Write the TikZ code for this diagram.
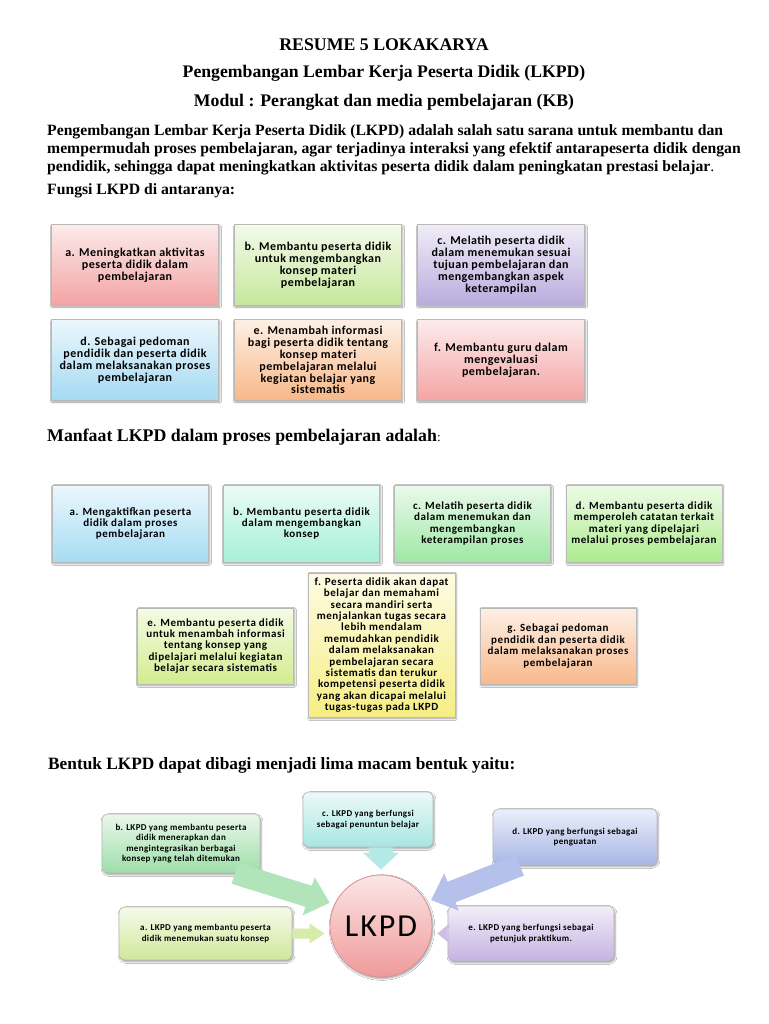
\documentclass[tikz,border=0pt]{standalone}
\usepackage{fontspec}
\setmainfont{Liberation Serif}
\newfontfamily\calibri[LetterSpace=4]{Carlito}
\newfontfamily\calibriwide[LetterSpace=5]{Carlito}
\newfontfamily\calibribig[LetterSpace=6]{Carlito}
\usetikzlibrary{shapes,arrows.meta,positioning,calc,shadows.blur}
\usepackage{xcolor}
% fungsi colours
\definecolor{fredA}{HTML}{F3A3A3}
\definecolor{fgreenB}{HTML}{C6E89C}
\definecolor{fvioletC}{HTML}{B9ACDD}
\definecolor{fblueD}{HTML}{A4DAF2}
\definecolor{forangeE}{HTML}{F8B888}
\definecolor{fpinkF}{HTML}{F4A4A4}
% manfaat colours
\definecolor{mblue}{HTML}{A6DCF4}
\definecolor{mmint}{HTML}{A6F0D6}
\definecolor{mgreen}{HTML}{9EE8A4}
\definecolor{mgreenb}{HTML}{ADEC8E}
\definecolor{mlime}{HTML}{D2EC8E}
\definecolor{myellow}{HTML}{F6EE84}
\definecolor{mpeach}{HTML}{F8B98C}
% bentuk colours
\definecolor{bcyan}{HTML}{A6E6E2}
\definecolor{bgreen}{HTML}{9EDEA8}
\definecolor{blime}{HTML}{D0E89C}
\definecolor{bblue}{HTML}{A8B6E6}
\definecolor{blav}{HTML}{C6B2E2}
\definecolor{bpink}{HTML}{F09A9A}

% fat arrow: from, to, colour, shaft half width, head half width, head length
\newcommand{\fatarrow}[6]{%
  \coordinate (fa-s) at (#1);
  \coordinate (fa-t) at ($(#2)!5pt!(fa-s)$);
  \coordinate (fa-h) at ($(fa-t)!#6!(fa-s)$);
  \fill[#3] ($(fa-s)!#4!90:(fa-t)$) -- ($(fa-h)!#4!90:(fa-t)$) -- ($(fa-h)!#5!90:(fa-t)$)
    -- (fa-t) -- ($(fa-h)!#5!-90:(fa-t)$) -- ($(fa-h)!#4!-90:(fa-t)$) -- ($(fa-s)!#4!-90:(fa-t)$) -- cycle;
}

\begin{document}
\begin{tikzpicture}[x=1pt, y=-1pt,
  card/.style={rectangle, draw=gray!55, line width=0.6pt, top color=#1!22!white, bottom color=#1, align=center, inner sep=1pt,
    blur shadow={shadow blur steps=4, shadow xshift=1pt, shadow yshift=-1.5pt}},
  fungsi/.style={card=#1, minimum width=167pt, minimum height=81pt, font=\calibri\bfseries\fontsize{12}{11.9}\selectfont},
  manfaat/.style={card=#1, minimum width=156pt, minimum height=77pt, font=\calibriwide\bfseries\fontsize{11}{11.4}\selectfont},
  bentuk/.style={card=#1, rounded corners=6pt, font=\calibri\bfseries\fontsize{9}{10.6}\selectfont},
  head/.style={font=\bfseries\fontsize{17.8}{20}\selectfont, anchor=west}
]
  \useasboundingbox (0,0) rectangle (768,1024);
  \fill[white] (0,0) rectangle (768,1024);

  % Titles
  \node[font=\bfseries\fontsize{17.8}{20}\selectfont] (title1) at (384,45) {RESUME 5 LOKAKARYA};
  \node[font=\bfseries\fontsize{17.7}{20}\selectfont] (title2) at (384,73) {Pengembangan Lembar Kerja Peserta Didik (LKPD)};
  \node[font=\bfseries\fontsize{17.7}{20}\selectfont] (title3) at (384,102) {Modul : Perangkat dan media pembelajaran (KB)};
  \node[font=\bfseries\fontsize{15.7}{18}\selectfont, align=left, anchor=north west, inner sep=0pt] (intro) at (47,124)
    {Pengembangan Lembar Kerja Peserta Didik (LKPD) adalah salah satu sarana untuk membantu dan\\
     mempermudah proses pembelajaran, agar terjadinya interaksi yang efektif antarapeserta didik dengan\\
     pendidik, sehingga dapat meningkatkan aktivitas peserta didik dalam peningkatan prestasi belajar{\mdseries .}};
  \node[font=\bfseries\fontsize{15.7}{18}\selectfont, anchor=west, inner sep=0pt] (fungsi) at (47,191) {Fungsi LKPD di antaranya:};

  % Fungsi boxes
  \node[fungsi=fredA] (fa) at (135,265) {a. Meningkatkan aktivitas\\peserta didik dalam\\pembelajaran};
  \node[fungsi=fgreenB] (fb) at (318,265) {b. Membantu peserta didik\\untuk mengembangkan\\konsep materi\\pembelajaran};
  \node[fungsi=fvioletC] (fc) at (501,265) {c. Melatih peserta didik\\dalam menemukan sesuai\\tujuan pembelajaran dan\\mengembangkan aspek\\keterampilan};
  \node[fungsi=fblueD] (fd) at (135,360) {d. Sebagai pedoman\\pendidik dan peserta didik\\dalam melaksanakan proses\\pembelajaran};
  \node[fungsi=forangeE] (fe) at (318,360) {e. Menambah informasi\\bagi peserta didik tentang\\konsep materi\\pembelajaran melalui\\kegiatan belajar yang\\sistematis};
  \node[fungsi=fpinkF] (ff) at (501,360) {f. Membantu guru dalam\\mengevaluasi\\pembelajaran.};

  % Manfaat boxes
  \node[head, inner sep=0pt] (manfaat) at (47,437) {Manfaat LKPD dalam proses pembelajaran adalah{\mdseries\fontsize{13}{15}\selectfont :}};
  \node[manfaat=mblue] (ma) at (130.5,523.5) {a. Mengaktifkan peserta\\didik dalam proses\\pembelajaran};
  \node[manfaat=mmint] (mb) at (301.5,523.5) {b. Membantu peserta didik\\dalam mengembangkan\\konsep};
  \node[manfaat=mgreen] (mc) at (472.5,523.5) {c. Melatih peserta didik\\dalam menemukan dan\\mengembangkan\\keterampilan proses};
  \node[manfaat=mgreenb] (md) at (644,523.5) {d. Membantu peserta didik\\memperoleh catatan terkait\\materi yang dipelajari\\melalui proses pembelajaran};
  \node[manfaat=mlime, minimum height=76pt] (me) at (215.5,646) {e. Membantu peserta didik\\untuk menambah informasi\\tentang konsep yang\\dipelajari melalui kegiatan\\belajar secara sistematis};
  \node[manfaat=myellow, minimum width=147pt, minimum height=144pt] (mf) at (381.5,645) {f. Peserta didik akan dapat\\belajar dan memahami\\secara mandiri serta\\menjalankan tugas secara\\lebih mendalam\\memudahkan pendidik\\dalam melaksanakan\\pembelajaran secara\\sistematis dan terukur\\kompetensi peserta didik\\yang akan dicapai melalui\\tugas-tugas pada LKPD};
  \node[manfaat=mpeach, minimum height=76pt] (mg) at (558,646) {g. Sebagai pedoman\\pendidik dan peserta didik\\dalam melaksanakan proses\\pembelajaran};

  % Bentuk diagram
  \node[head, font=\bfseries\fontsize{17.3}{20}\selectfont, inner sep=0pt] (bentuk) at (48,765) {Bentuk LKPD dapat dibagi menjadi lima macam bentuk yaitu:};
  \node[bentuk=bgreen, minimum width=158pt, minimum height=59pt] (lb) at (181,843.5) {b. LKPD yang membantu peserta\\didik menerapkan dan\\mengintegrasikan berbagai\\konsep yang telah ditemukan};
  \node[bentuk=bcyan, minimum width=130pt, minimum height=55pt] (lc) at (368,819.5) {c. LKPD yang berfungsi\\sebagai penuntun belajar};
  \node[bentuk=blime, minimum width=173pt, minimum height=53pt] (la) at (205.5,933.5) {a. LKPD yang membantu peserta\\didik menemukan suatu konsep};
  \node[bentuk=bblue, minimum width=164pt, minimum height=56pt] (ld) at (575,837) {d. LKPD yang berfungsi sebagai\\penguatan};
  \node[bentuk=blav, minimum width=166pt, minimum height=55pt] (le) at (531,933.5) {e. LKPD yang berfungsi sebagai\\petunjuk praktikum.};
  \node[circle, draw=bpink!80!gray, line width=0.8pt, top color=bpink!25!white, bottom color=bpink, minimum size=102pt, inner sep=0pt,
    font=\calibribig\fontsize{32}{34}\selectfont,
    blur shadow={shadow blur steps=4, shadow xshift=1pt, shadow yshift=-1.5pt}] (lkpd) at (381,926) {LKPD};

  \fatarrow{$(lb.south)!0.68!(lb.south east)$}{lkpd.155}{bgreen!80}{11pt}{20pt}{22pt}
  \fatarrow{lkpd.north |- lc.south}{lkpd.north}{bcyan!85}{12pt}{18pt}{17pt}
  \fatarrow{$(ld.south west)!0.33!(ld.south)$}{lkpd.28}{bblue!85}{11pt}{20pt}{22pt}
  \fatarrow{la.east}{lkpd.west |- la.east}{blime!85}{5pt}{10pt}{15pt}
  \fatarrow{le.west}{lkpd.east |- le.west}{blav!85}{5pt}{10pt}{12pt}
\end{tikzpicture}
\end{document}
